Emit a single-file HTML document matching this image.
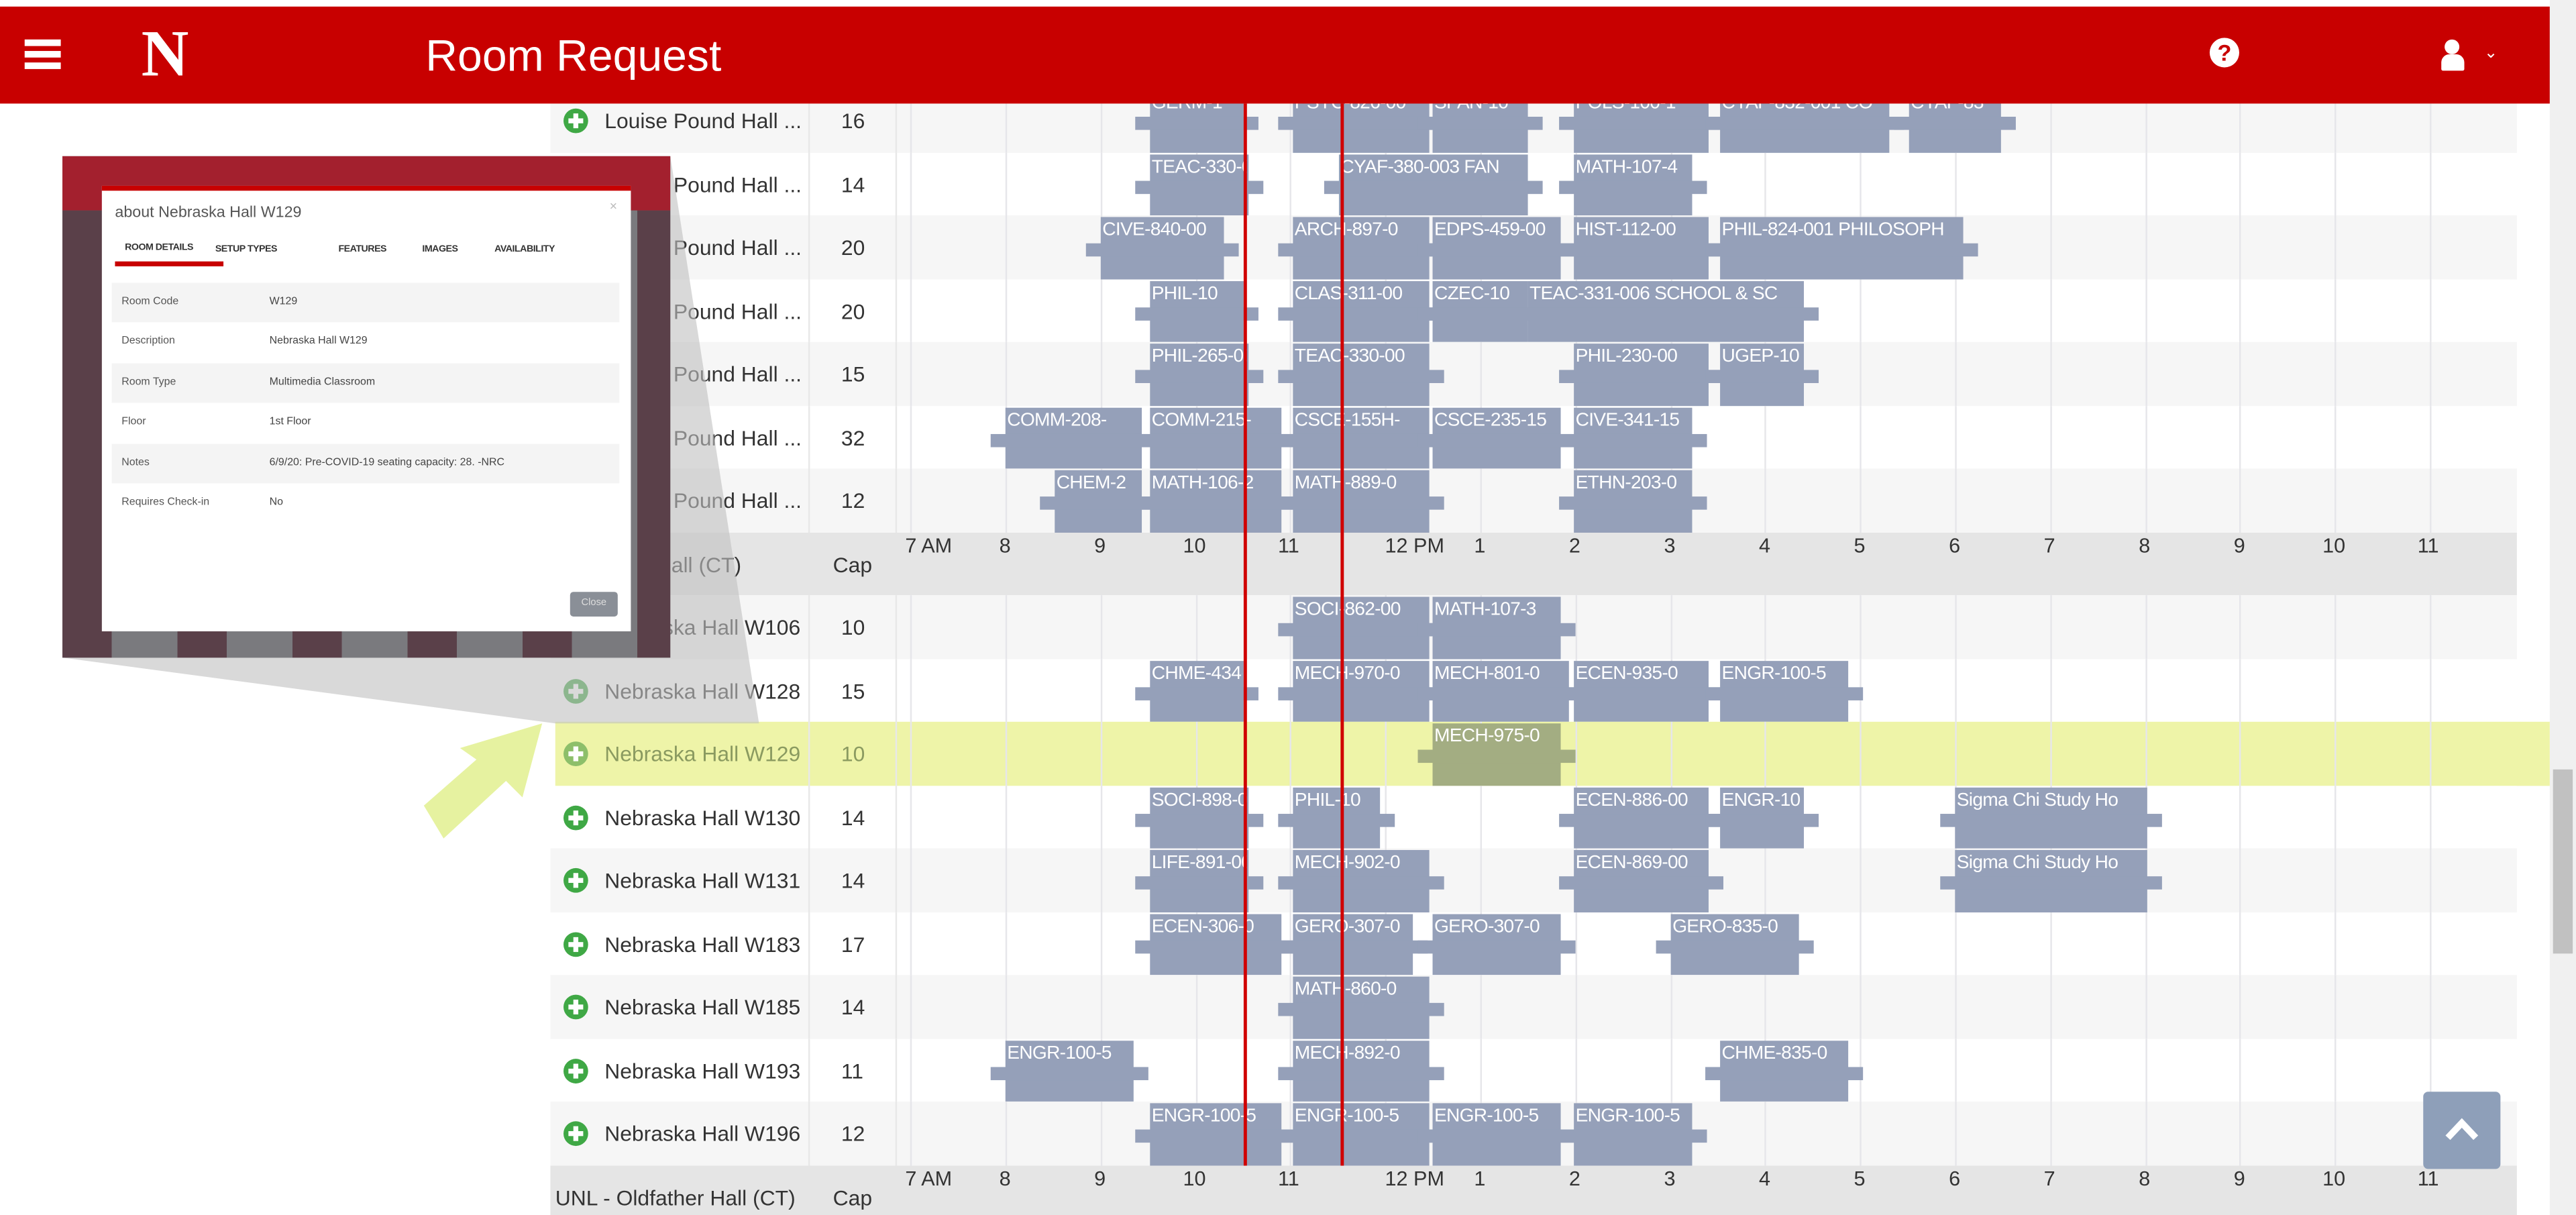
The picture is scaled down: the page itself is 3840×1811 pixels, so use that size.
<!DOCTYPE html>
<html><head><meta charset="utf-8">
<style>
html,body{margin:0;padding:0;background:#fff;width:3840px;height:1811px;overflow:hidden}
#s{position:absolute;left:0;top:0;width:1568px;height:739px;transform:scale(2.449,2.4506);transform-origin:0 0;font-family:"Liberation Sans",sans-serif;overflow:hidden;background:#fff}
.a{position:absolute}
.blk{position:absolute;background:#95a0b9}
.lbl{position:absolute;color:#fff;font-size:11.5px;white-space:nowrap;overflow:hidden;line-height:15px;letter-spacing:-0.3px}
.nm{position:absolute;font-size:13px;color:#333;white-space:nowrap}
.tk{position:absolute;font-size:12.5px;color:#333;white-space:nowrap}
.tab{position:absolute;font-size:5.8px;color:#333;font-weight:bold;letter-spacing:-0.2px;white-space:nowrap}
</style></head><body>
<div id="s">
<div class="a" style="left:1552px;top:0;width:16px;height:739px;background:#f0f0f0"></div>
<div class="a" style="left:1554px;top:468px;width:12px;height:112px;background:#c1c1c1"></div>
<div id="tbl"></div>
<svg class="a" style="left:0;top:0" width="1568" height="739">
<polygon points="408,95 462,440 338,440 38,400" fill="#c0c0c0" fill-opacity="0.6"/>
<polygon points="258,490 290,462 280,455 330,440 318,485 308,475 270,510" fill="#e6f2a0"/>
</svg>
<div class="a" style="left:38px;top:95px;width:370px;height:305px;background:#6f6b70"></div>
<div class="a" style="left:38px;top:95px;width:370px;height:33px;background:#a3202e"></div>
<div class="a" style="left:38px;top:128px;width:370px;height:272px;background:repeating-linear-gradient(90deg,#5a4049 0 30px,#7a7a7e 30px 70px)"></div>
<div class="a" style="left:62px;top:113px;width:322px;height:271px;background:#fff;border-top:3px solid #c80000;box-sizing:border-box"></div>
<div class="a" style="left:70px;top:124px;font-size:9.5px;color:#555">about Nebraska Hall W129</div>
<div class="a" style="left:371px;top:121px;font-size:8px;color:#bbb">×</div>
<div class="tab" style="left:76px;top:148px">ROOM DETAILS</div>
<div class="tab" style="left:131px;top:149px">SETUP TYPES</div>
<div class="tab" style="left:206px;top:149px">FEATURES</div>
<div class="tab" style="left:257px;top:149px">IMAGES</div>
<div class="tab" style="left:301px;top:149px">AVAILABILITY</div>
<div class="a" style="left:70px;top:159px;width:66px;height:3px;background:#c80000"></div>
<div id="mt"></div>
<div class="a" style="left:347px;top:360px;width:29px;height:15px;background:#8a8f97;border-radius:2px;color:#ddd;font-size:6px;text-align:center;line-height:15px">Close</div>
<div class="a" style="left:0;top:0;width:1552px;height:4px;background:#fff"></div>
<div class="a" style="left:0;top:4px;width:1552px;height:59px;background:#c80000"></div>
<div class="a" style="left:15px;top:24px;width:22px;height:3.5px;background:#fff"></div>
<div class="a" style="left:15px;top:31px;width:22px;height:3.5px;background:#fff"></div>
<div class="a" style="left:15px;top:38px;width:22px;height:3.5px;background:#fff"></div>
<div class="a" style="left:86px;top:13px;font-family:'Liberation Serif',serif;font-weight:bold;font-size:40px;color:#fff;line-height:40px">N</div>
<div class="a" style="left:259px;top:17px;font-size:27px;color:#fff;line-height:34px">Room Request</div>
<div class="a" style="left:1345px;top:23px;width:18px;height:18px;border-radius:50%;background:#fff;color:#c80000;font-weight:bold;font-size:14px;text-align:center;line-height:18px">?</div>
<div class="a" style="left:1488px;top:24px;width:9px;height:9px;border-radius:50%;background:#fff"></div>
<div class="a" style="left:1486px;top:33px;width:14px;height:10px;border-radius:5px 5px 1px 1px;background:#fff"></div>
<div class="a" style="left:1512px;top:27px;font-size:10px;color:#fff">⌄</div>
<div class="a" style="left:1475px;top:664px;width:47px;height:47px;background:#8e9fb9;border-radius:3px"></div>
<svg class="a" style="left:1475px;top:664px" width="47" height="47"><polyline points="15,28 23.5,19 32,28" fill="none" stroke="#fff" stroke-width="4"/></svg>
</div>
<script>
var T=document.getElementById('tbl'),h='';
function hx(x){return 612+(x-8)*57.8}
var rows=[
['Louise Pound Hall ...','16',[['GERM-1',700,757],['PSYC-826-00',787,870],['SPAN-10',872,930],['POLS-100-1',958,1040],['CYAF-832-001 CO',1047,1150],['CYAF-83',1162,1218]]],
['Louise Pound Hall ...','14',[['TEAC-330-00',700,760],['CYAF-380-003 FAN',815,930],['MATH-107-4',958,1030]]],
['Louise Pound Hall ...','20',[['CIVE-840-00',670,745],['ARCH-897-0',787,870],['EDPS-459-00',872,950],['HIST-112-00',958,1040],['PHIL-824-001 PHILOSOPH',1047,1195]]],
['Louise Pound Hall ...','20',[['PHIL-10',700,757],['CLAS-311-00',787,870],['CZEC-10',872,930],['TEAC-331-006 SCHOOL & SC',930,1098]]],
['Louise Pound Hall ...','15',[['PHIL-265-00',700,760],['TEAC-330-00',787,870],['PHIL-230-00',958,1040],['UGEP-10',1047,1098]]],
['Louise Pound Hall ...','32',[['COMM-208-',612,695],['COMM-215-',700,780],['CSCE-155H-',787,870],['CSCE-235-15',872,950],['CIVE-341-15',958,1030]]],
['Louise Pound Hall ...','12',[['CHEM-2',642,695],['MATH-106-2',700,780],['MATH-889-0',787,870],['ETHN-203-0',958,1030]]],
['H','Nebraska Hall (CT)'],
['Nebraska Hall W106','10',[['SOCI-862-00',787,870],['MATH-107-3',872,950]]],
['Nebraska Hall W128','15',[['CHME-434-0',700,757],['MECH-970-0',787,870],['MECH-801-0',872,955],['ECEN-935-0',958,1040],['ENGR-100-5',1047,1125]]],
['Nebraska Hall W129','10',[['MECH-975-0',872,950]],1],
['Nebraska Hall W130','14',[['SOCI-898-00',700,760],['PHIL-10',787,840],['ECEN-886-00',958,1040],['ENGR-10',1047,1098],['Sigma Chi Study Ho',1190,1307]]],
['Nebraska Hall W131','14',[['LIFE-891-001',700,760],['MECH-902-0',787,870],['ECEN-869-00',958,1040],['Sigma Chi Study Ho',1190,1307]]],
['Nebraska Hall W183','17',[['ECEN-306-0',700,780],['GERO-307-0',787,860],['GERO-307-0',872,950],['GERO-835-0',1017,1095]]],
['Nebraska Hall W185','14',[['MATH-860-0',787,870]]],
['Nebraska Hall W193','11',[['ENGR-100-5',612,690],['MECH-892-0',787,870],['CHME-835-0',1047,1125]]],
['Nebraska Hall W196','12',[['ENGR-100-5',700,780],['ENGR-100-5',787,870],['ENGR-100-5',872,950],['ENGR-100-5',958,1030]]],
['H','UNL - Oldfather Hall (CT)']];
var RH=38.5,top0=54;
rows.forEach(function(r,i){
 var y=top0+RH*i;
 if(r[0]=='H'){
  h+='<div class="a" style="left:335px;top:'+y+'px;width:1197px;height:'+RH+'px;background:#e5e5e5"></div>';
  h+='<div class="nm" style="left:'+(i==7?340:338)+'px;top:'+(y+12)+'px">'+r[1]+'</div><div class="nm" style="left:507px;top:'+(y+12)+'px">Cap</div>';
  var labs=['7 AM','8','9','10','11','12 PM','1','2','3','4','5','6','7','8','9','10','11'];
  labs.forEach(function(l,j){var x=hx(7+j);var w=l.length*7.5;var lx=j==0?551:(j==5?843:x-w/2);
   h+='<div class="tk" style="left:'+lx+'px;top:'+(y+1)+'px">'+l+'</div>';});
  return;}
 var bg=r[3]?'#eef4a8':(i%2==0?'#f6f6f6':'#fff');
 h+='<div class="a" style="left:'+(r[3]?338:335)+'px;top:'+y+'px;width:'+(r[3]?1214:1197)+'px;height:'+RH+'px;background:'+bg+'"></div>';
 h+='<div class="a" style="left:492px;top:'+y+'px;width:1px;height:'+RH+'px;background:#e8e8e8"></div><div class="a" style="left:545px;top:'+y+'px;width:1px;height:'+RH+'px;background:#e8e8e8"></div>';
 for(var k=7;k<=23;k++){h+='<div class="a" style="left:'+Math.round(hx(k))+'px;top:'+y+'px;width:1px;height:'+RH+'px;background:#e6e6ea"></div>';}
 var gc=r[3]?'#8dbf6a':'#3fa845';
 h+='<div class="a" style="left:343px;top:'+(y+12)+'px;width:15px;height:15px;border-radius:50%;background:'+gc+'"></div><div class="a" style="left:349px;top:'+(y+15)+'px;width:3px;height:9px;background:#fff"></div><div class="a" style="left:346px;top:'+(y+18)+'px;width:9px;height:3px;background:#fff"></div>';
 var tc=r[3]?'#8a9a60':'#333';
 h+='<div class="nm" style="left:368px;top:'+(y+12)+'px;color:'+tc+'">'+r[0]+'</div><div class="nm" style="left:512px;top:'+(y+12)+'px;color:'+tc+'">'+r[1]+'</div>';
 var bc=r[3]?'#a3ad82':'#95a0b9';
 r[2].forEach(function(e){var x1=e[1],x2=e[2],w=x2-x1;
  h+='<div class="blk" style="background:'+bc+';left:'+x1+'px;top:'+(y+1)+'px;width:'+w+'px;height:'+(RH-1)+'px"></div>';
  h+='<div class="blk" style="background:'+bc+';left:'+(x1-9)+'px;top:'+(y+17)+'px;width:'+(w+18)+'px;height:8px"></div>';
  h+='<div class="lbl" style="left:'+(x1+1)+'px;top:'+(y+2)+'px;width:'+(w-2)+'px">'+e[0]+'</div>';});
});
h+='<div class="a" style="left:757px;top:63px;width:2px;height:646px;background:#d00000"></div>';
h+='<div class="a" style="left:816px;top:63px;width:2px;height:646px;background:#d00000"></div>';
T.innerHTML=h;
var m='',md=[['Room Code','W129'],['Description','Nebraska Hall W129'],['Room Type','Multimedia Classroom'],['Floor','1st Floor'],['Notes','6/9/20: Pre-COVID-19 seating capacity: 28. -NRC'],['Requires Check-in','No']];
md.forEach(function(d,i){var y=172+i*24.4;
 if(i%2==0)m+='<div class="a" style="left:68px;top:'+y+'px;width:309px;height:24px;background:#f4f4f4"></div>';
 m+='<div class="a" style="left:74px;top:'+(y+8)+'px;font-size:6.5px;color:#555">'+d[0]+'</div><div class="a" style="left:164px;top:'+(y+8)+'px;font-size:6.5px;color:#444">'+d[1]+'</div>';});
document.getElementById('mt').innerHTML=m;
</script>
</body></html>
